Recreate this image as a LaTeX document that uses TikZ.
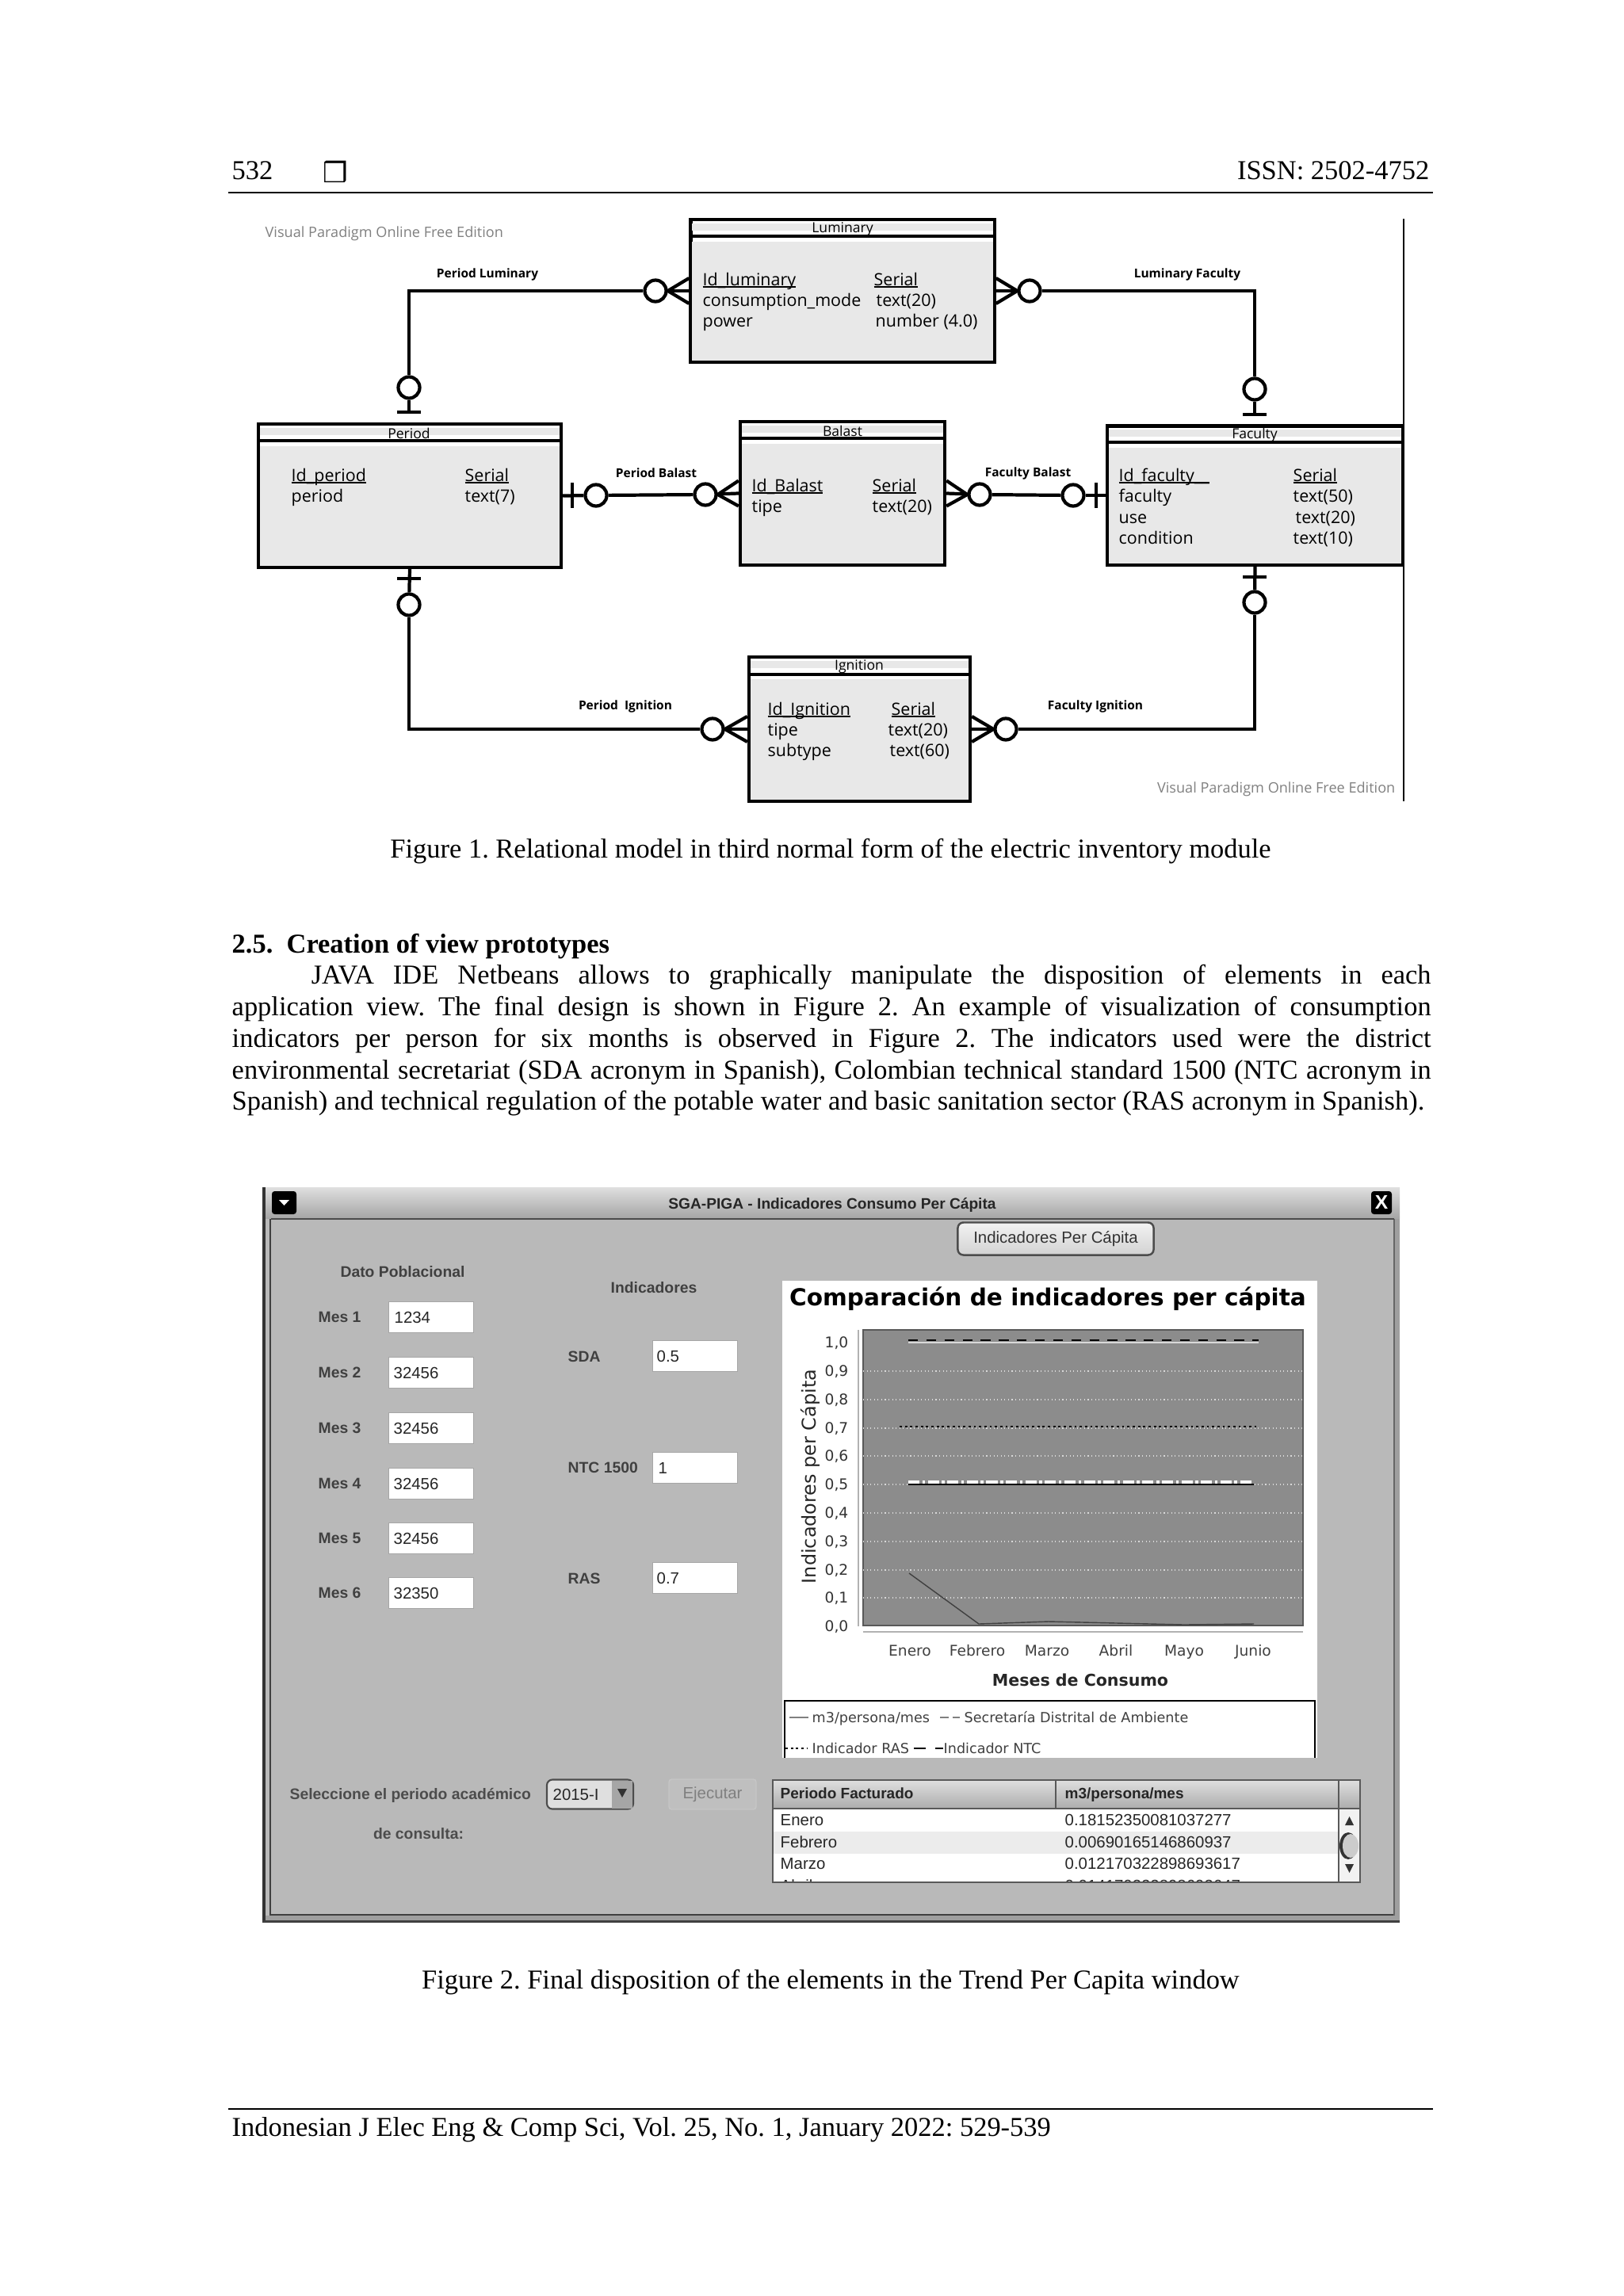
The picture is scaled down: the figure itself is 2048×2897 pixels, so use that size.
\documentclass[tikz,border=0pt]{standalone}
\usepackage{fontspec}
\setmainfont{Liberation Serif}
\setsansfont{Liberation Sans}
\newfontfamily\erfont{Open Sans}
\newfontfamily\symfont{DejaVu Sans}
\newcommand{\erkey}[1]{\setbox0\hbox{#1}\rlap{\rule[-0.8pt]{\wd0}{0.4pt}}\box0}
\tikzset{
  erbox/.style={draw,line width=1.2pt,fill=white,inner sep=0pt},
  erfill/.style={fill=gray!18},
  ertext/.style={anchor=base west,inner sep=0pt,font=\erfont\fontsize{6.1}{7}\selectfont},
  ertitle/.style={inner sep=0pt,font=\erfont\fontsize{5}{6}\selectfont},
  rellabel/.style={inner sep=0pt,font=\erfont\bfseries\fontsize{4.4}{5}\selectfont},
  rel/.style={line width=1.2pt},
  optional/.style={circle,draw,line width=1.2pt,fill=white,inner sep=0pt,minimum size=0.27cm},
  watermark/.style={anchor=west,inner sep=0pt,text=gray,font=\erfont\fontsize{5.15}{6}\selectfont},
  pagetext/.style={inner sep=0pt,font=\fontsize{9.8}{11.3}\selectfont\frenchspacing},
  winlabel/.style={anchor=base west,inner sep=0pt,text=black!75,font=\sffamily\bfseries\fontsize{5.5}{6}\selectfont},
  winfield/.style={draw=gray!70,line width=0.5pt,fill=white,inner sep=0pt,minimum width=1.07cm,minimum height=0.39cm},
  fieldtext/.style={anchor=base west,inner sep=0pt,text=black!85,font=\sffamily\fontsize{5.8}{6}\selectfont},
  ticklabel/.style={anchor=base east,inner sep=0pt,text=black!80,font=\symfont\fontsize{5.3}{6}\selectfont},
  catlabel/.style={anchor=base,inner sep=0pt,text=black!75,font=\symfont\fontsize{5.3}{6}\selectfont},
  legendtext/.style={anchor=base west,inner sep=0pt,text=black!75,font=\symfont\fontsize{5}{6}\selectfont},
  celltext/.style={anchor=base west,inner sep=0pt,text=black!85,font=\sffamily\fontsize{5.8}{6}\selectfont},
  gridline/.style={gray!30,line width=0.3pt,densely dotted},
}
\begin{document}
\begin{tikzpicture}[x=0.01cm,y=-0.01cm]
\useasboundingbox (0,0) rectangle (2048,2897);

% Page header
\node[pagetext,anchor=base west] (pageno) at (292,227) {532};
\node[pagetext,anchor=base] (pagebox) at (423,230) {\symfont\fontsize{10}{11}\selectfont ❒};
\node[pagetext,anchor=base east] (issn) at (1804,227) {ISSN: 2502-4752};
\coordinate (headl) at (288,243);
\coordinate (headr) at (1808,243);
\draw[line width=0.7pt] (headl) -- (headr);

% Figure 1 watermarks and right edge
\node[watermark] (markone) at (334,295) {Visual Paradigm Online Free Edition};
\node[watermark,anchor=east] (marktwo) at (1761,996) {Visual Paradigm Online Free Edition};
\coordinate (edgetop) at (1771,276);
\coordinate (edgebot) at (1771,1011);
\draw[line width=0.4pt] (edgetop) -- (edgebot);

% Luminary entity
\node[erbox,minimum width=3.83cm,minimum height=1.80cm] (luminary) at (1063,367) {};
\fill[erfill] ([shift={(4,30)}]luminary.north west) rectangle ([shift={(-4,-4)}]luminary.south east);
\fill[erfill] ([shift={(4,7)}]luminary.north west) rectangle ([shift={(-4,16)}]luminary.north east);
\draw[rel] ([yshift=-2.3mm]luminary.north west) -- ([yshift=-2.3mm]luminary.north east);
\node[ertitle] (luminarytitle) at (1063,289) {Luminary};
\node[ertext] (idluminary) at (886,360) {\erkey{Id\_luminary}};
\node[ertext] (consumption) at (886,386) {consumption\_mode};
\node[ertext] (power) at (886,412) {power};
\node[ertext] (luminarykey) at (1102,360) {\erkey{Serial}};
\node[ertext] (modetype) at (1105,386) {text(20)};
\node[ertext] (powertype) at (1104,412) {number (4.0)};

% Period entity
\node[erbox,minimum width=3.82cm,minimum height=1.81cm] (period) at (517,625.5) {};
\fill[erfill] ([shift={(4,30)}]period.north west) rectangle ([shift={(-4,-4)}]period.south east);
\fill[erfill] ([shift={(4,7)}]period.north west) rectangle ([shift={(-4,16)}]period.north east);
\draw[rel] ([yshift=-2.3mm]period.north west) -- ([yshift=-2.3mm]period.north east);
\node[ertitle] (periodtitle) at (516,547) {Period};
\node[ertext] (idperiod) at (367,607) {\erkey{Id\_period}};
\node[ertext] (periodname) at (367,633) {period};
\node[ertext] (periodkey) at (586,607) {\erkey{Serial}};
\node[ertext] (periodtype) at (586,633) {text(7)};

% Balast entity
\node[erbox,minimum width=2.58cm,minimum height=1.81cm] (balast) at (1063,622.5) {};
\fill[erfill] ([shift={(4,30)}]balast.north west) rectangle ([shift={(-4,-4)}]balast.south east);
\fill[erfill] ([shift={(4,7)}]balast.north west) rectangle ([shift={(-4,16)}]balast.north east);
\draw[rel] ([yshift=-2.3mm]balast.north west) -- ([yshift=-2.3mm]balast.north east);
\node[ertitle] (balasttitle) at (1063,544) {Balast};
\node[ertext] (idbalast) at (948,620) {\erkey{Id\_Balast}};
\node[ertext] (balasttipe) at (948,646) {tipe};
\node[ertext] (balastkey) at (1100,620) {\erkey{Serial}};
\node[ertext] (balasttype) at (1100,646) {text(20)};

% Faculty entity
\node[erbox,minimum width=3.73cm,minimum height=1.75cm] (faculty) at (1583.5,625) {};
\fill[erfill] ([shift={(4,30)}]faculty.north west) rectangle ([shift={(-4,-4)}]faculty.south east);
\fill[erfill] ([shift={(4,7)}]faculty.north west) rectangle ([shift={(-4,16)}]faculty.north east);
\draw[rel] ([yshift=-2.3mm]faculty.north west) -- ([yshift=-2.3mm]faculty.north east);
\node[ertitle] (facultytitle) at (1583,549) {Faculty};
\node[ertext] (idfaculty) at (1411,607) {\erkey{Id\_faculty\_\_}};
\node[ertext] (facultyname) at (1411,633) {faculty};
\node[ertext] (facultyuse) at (1411,660) {use};
\node[ertext] (facultycond) at (1411,686) {condition};
\node[ertext] (facultykey) at (1631,607) {\erkey{Serial}};
\node[ertext] (nametype) at (1631,633) {text(50)};
\node[ertext] (usetype) at (1634,660) {text(20)};
\node[ertext] (condtype) at (1631,686) {text(10)};

% Ignition entity
\node[erbox,minimum width=2.79cm,minimum height=1.82cm] (ignition) at (1084.5,920) {};
\fill[erfill] ([shift={(4,30)}]ignition.north west) rectangle ([shift={(-4,-4)}]ignition.south east);
\fill[erfill] ([shift={(4,7)}]ignition.north west) rectangle ([shift={(-4,16)}]ignition.north east);
\draw[rel] ([yshift=-2.4mm]ignition.north west) -- ([yshift=-2.4mm]ignition.north east);
\node[ertitle] (ignitiontitle) at (1084,841) {Ignition};
\node[ertext] (idignition) at (968,902) {\erkey{Id\_Ignition}};
\node[ertext] (ignitiontipe) at (968,928) {tipe};
\node[ertext] (subtype) at (968,954) {subtype};
\node[ertext] (ignitionkey) at (1124,902) {\erkey{Serial}};
\node[ertext] (tipetype) at (1120,928) {text(20)};
\node[ertext] (subtypetype) at (1122,954) {text(60)};

% Period Luminary
\node[optional] (plcircle) at (827,367) {};
\node[optional] (ploptional) at (516,489) {};
\coordinate (plbar) at (516,520);
\draw[rel] (ploptional) -- (516,367) -- (plcircle);
\draw[rel] (ploptional) -- (plbar);
\draw[rel] ([xshift=-1.5mm]plbar) -- ([xshift=1.5mm]plbar);
\draw[rel] ([yshift=1.6mm]luminary.west) -- (plcircle.east) -- ([yshift=-1.6mm]luminary.west);
\draw[rel] (plcircle) -- (luminary.west);
\node[rellabel] (pllabel) at (615,346) {Period Luminary};

% Luminary Faculty
\node[optional] (lfcircle) at (1299,367) {};
\node[optional] (lfoptional) at (1583,491) {};
\coordinate (lfbar) at (1583,523);
\draw[rel] (lfcircle) -- (1583,367) -- (lfoptional);
\draw[rel] (lfoptional) -- (lfbar);
\draw[rel] ([xshift=-1.5mm]lfbar) -- ([xshift=1.5mm]lfbar);
\draw[rel] ([yshift=1.6mm]luminary.east) -- (lfcircle.west) -- ([yshift=-1.6mm]luminary.east);
\draw[rel] (lfcircle) -- (luminary.east);
\node[rellabel] (lflabel) at (1498,346) {Luminary Faculty};

% Period Balast
\node[optional] (pbleft) at (752,625) {};
\node[optional] (pbright) at (890,624) {};
\coordinate (pbbar) at (722,625);
\draw[rel] (period.east) -- (pbleft);
\draw[rel] ([yshift=-1.6mm]pbbar) -- ([yshift=1.6mm]pbbar);
\draw[rel] (pbleft) -- (pbright);
\draw[rel] ([yshift=1.6mm]balast.west) -- (pbright.east) -- ([yshift=-1.6mm]balast.west);
\draw[rel] (pbright) -- (balast.west);
\node[rellabel] (pblabel) at (828,597) {Period Balast};

% Faculty Balast
\node[optional] (fbleft) at (1236,624) {};
\node[optional] (fbright) at (1354,625) {};
\coordinate (fbbar) at (1383,625);
\draw[rel] ([yshift=1.6mm]balast.east) -- (fbleft.west) -- ([yshift=-1.6mm]balast.east);
\draw[rel] (fbleft) -- (balast.east);
\draw[rel] (fbleft) -- (fbright);
\draw[rel] (fbright) -- (faculty.west);
\draw[rel] ([yshift=-1.6mm]fbbar) -- ([yshift=1.6mm]fbbar);
\node[rellabel] (fblabel) at (1297,597) {Faculty Balast};

% Period Ignition
\node[optional] (pioptional) at (516,763) {};
\node[optional] (picircle) at (899,920) {};
\coordinate (pibar) at (516,730);
\draw[rel] (period.south) -- (pioptional);
\draw[rel] ([xshift=-1.5mm]pibar) -- ([xshift=1.5mm]pibar);
\draw[rel] (pioptional) -- (516,920) -- (picircle);
\draw[rel] ([yshift=1.6mm]ignition.west) -- (picircle.east) -- ([yshift=-1.6mm]ignition.west);
\draw[rel] (picircle) -- (ignition.west);
\node[rellabel] (pilabel) at (789,891) {Period\ \ Ignition};

% Faculty Ignition
\node[optional] (fioptional) at (1583,760) {};
\node[optional] (ficircle) at (1269,920) {};
\coordinate (fibar) at (1583,728);
\draw[rel] (faculty.south) -- (fioptional);
\draw[rel] ([xshift=-1.5mm]fibar) -- ([xshift=1.5mm]fibar);
\draw[rel] (fioptional) -- (1583,920) -- (ficircle);
\draw[rel] ([yshift=1.6mm]ignition.east) -- (ficircle.west) -- ([yshift=-1.6mm]ignition.east);
\draw[rel] (ficircle) -- (ignition.east);
\node[rellabel] (filabel) at (1382,891) {Faculty Ignition};

% Captions and body text
\node[pagetext] (captionone) at (1048,1074) {Figure 1. Relational model in third normal form of the electric inventory module};
\node[pagetext,anchor=base west,font=\fontsize{9.8}{11}\selectfont\bfseries\frenchspacing] (section) at (292,1202) {2.5.\ \ Creation of view prototypes};
\node[pagetext,anchor=north west,text width=15.12cm,align=justify] (bodytext) at (292,1217) {\setlength{\parindent}{1cm}\indent JAVA IDE Netbeans allows to graphically manipulate the disposition of elements in each\linebreak application view. The final design is shown in Figure 2. An example of visualization of consumption\linebreak indicators per person for six months is observed in Figure 2. The indicators used were the district\linebreak environmental secretariat (SDA acronym in Spanish), Colombian technical standard 1500 (NTC acronym in\linebreak Spanish) and technical regulation of the potable water and basic sanitation sector (RAS acronym in Spanish).};
\node[pagetext] (captiontwo) at (1048,2501) {Figure 2. Final disposition of the elements in the Trend Per Capita window};

% Application window
\fill[gray!55] (331,1498) rectangle (1766,2426);
\shade[top color=gray!25,bottom color=gray!70] (331,1498) rectangle (1766,1537);
\fill[black!80] (331,1498) rectangle (335,2426);
\fill[black!75] (331,2423) rectangle (1766,2426);
\fill[black!75] (340,1538) rectangle (342,2417);
\fill[black!75] (340,2415) rectangle (1760,2417);
\fill[black!60] (1758,1538) rectangle (1760,2417);
\fill[gray!75] (1760,1538) rectangle (1766,2423);
\fill[gray!75] (335,2417) rectangle (1766,2423);
\draw[black!70,line width=0.6pt] (342,1538) -- (1759,1538);
\fill[black,rounded corners=1pt] (343,1503) rectangle (374,1532);
\fill[white] (352,1514) -- (365,1514) -- (358.5,1521) -- cycle;
\fill[black,rounded corners=1pt] (1730,1503) rectangle (1756,1532);
\node[inner sep=0pt,text=white,font=\sffamily\bfseries\fontsize{7}{8}\selectfont] (closebtn) at (1743,1517) {X};
\node[inner sep=0pt,text=black!85,font=\sffamily\bfseries\fontsize{5.45}{6}\selectfont] (wintitle) at (1050,1520) {SGA-PIGA - Indicadores Consumo Per Cápita};

% Indicator button
\node[draw=black!70,line width=0.7pt,rounded corners=2pt,top color=gray!10,bottom color=gray!35,minimum width=2.47cm,minimum height=0.41cm,inner sep=0pt,text=black!80,font=\sffamily\fontsize{5.8}{6}\selectfont] (indbutton) at (1332,1563) {Indicadores Per Cápita};

% Population data
\node[winlabel,anchor=base] (dato) at (508,1611) {Dato Poblacional};
\node[winlabel] (mes1) at (401,1668) {Mes 1};
\node[winlabel] (mes2) at (401,1738) {Mes 2};
\node[winlabel] (mes3) at (401,1808) {Mes 3};
\node[winlabel] (mes4) at (401,1878) {Mes 4};
\node[winlabel] (mes5) at (401,1947) {Mes 5};
\node[winlabel] (mes6) at (401,2016) {Mes 6};
\node[winfield] (field1) at (544,1662) {};
\node[winfield] (field2) at (544,1732) {};
\node[winfield] (field3) at (544,1802) {};
\node[winfield] (field4) at (544,1872) {};
\node[winfield] (field5) at (544,1941) {};
\node[winfield] (field6) at (544,2010) {};
\node[fieldtext] (val1) at (497,1669) {1234};
\node[fieldtext] (val2) at (496,1739) {32456};
\node[fieldtext] (val3) at (496,1809) {32456};
\node[fieldtext] (val4) at (496,1879) {32456};
\node[fieldtext] (val5) at (496,1948) {32456};
\node[fieldtext] (val6) at (496,2017) {32350};

% Indicators
\node[winlabel,anchor=base] (indic) at (825,1631) {Indicadores};
\node[winlabel] (sda) at (716,1718) {SDA};
\node[winlabel] (ntc) at (716,1858) {NTC 1500};
\node[winlabel] (ras) at (716,1998) {RAS};
\node[winfield] (sdafield) at (877,1711) {};
\node[winfield] (ntcfield) at (877,1852) {};
\node[winfield] (rasfield) at (877,1991) {};
\node[fieldtext] (sdaval) at (828,1718) {0.5};
\node[fieldtext] (ntcval) at (830,1859) {1};
\node[fieldtext] (rasval) at (828,1998) {0.7};

% Period selector
\node[winlabel,text=black!70] (select) at (365,2270) {Seleccione el periodo académico};
\node[winlabel,anchor=base,text=black!70] (consulta) at (528,2320) {de consulta:};
\node[draw=black!70,line width=0.6pt,rounded corners=2pt,fill=gray!25,minimum width=1.09cm,minimum height=0.37cm,inner sep=0pt] (combo) at (744.5,2264) {};
\fill[gray!70] (772,2247) rectangle (798,2282);
\fill[black!80] (779,2257) -- (791,2257) -- (785,2268) -- cycle;
\node[fieldtext] (comboval) at (697,2271) {2015-I};
\node[draw=gray!45,fill=gray!50,rounded corners=1pt,minimum width=1.10cm,minimum height=0.38cm,inner sep=0pt,text=gray,font=\sffamily\fontsize{5.8}{6}\selectfont] (ejecutar) at (899,2264) {Ejecutar};

% Chart panel
\fill[white] (987,1616) rectangle (1662,2218);
\node[inner sep=0pt,font=\symfont\bfseries\fontsize{8.4}{10}\selectfont] (charttitle) at (1322,1639) {Comparación de indicadores per cápita};
\fill[black!45] (1089,1678) rectangle (1644,2051);
\draw[black!65,line width=0.6pt] (1089,1678) rectangle (1644,2051);
\draw[gray!60,line width=0.4pt] (1083,1678) -- (1083,2052);
\draw[gray!60,line width=0.4pt] (1089,2059) -- (1644,2059);

% Horizontal grid
\draw[gridline] (1089,1730) -- (1644,1730);
\draw[gridline] (1089,1766) -- (1644,1766);
\draw[gridline] (1089,1802) -- (1644,1802);
\draw[gridline] (1089,1837) -- (1644,1837);
\draw[gridline] (1089,1873) -- (1644,1873);
\draw[gridline] (1089,1909) -- (1644,1909);
\draw[gridline] (1089,1945) -- (1644,1945);
\draw[gridline] (1089,1981) -- (1644,1981);
\draw[gridline] (1089,2016) -- (1644,2016);

% Indicator lines
\draw[white!85!black,line width=0.4pt] (1146,1694) -- (1588,1694);
\draw[black,line width=0.8pt,dash pattern=on 3.5pt off 3pt] (1146,1691) -- (1588,1691);
\draw[black,line width=0.8pt,dash pattern=on 0.8pt off 1.1pt] (1135,1800) -- (1587,1800);
\draw[black,line width=0.5pt] (1146,1873) -- (1582,1873);
\draw[white,line width=1pt,dash pattern=on 4pt off 1pt on 1pt off 1pt] (1146,1870) -- (1582,1870);
\draw[black!75,line width=0.4pt] (1147,1985) -- (1235,2049) -- (1323,2046) -- (1409,2048) -- (1494,2050) -- (1582,2049);

% Value axis labels
\node[ticklabel] (tick10) at (1071,1700) {1,0};
\node[ticklabel] (tick09) at (1071,1736) {0,9};
\node[ticklabel] (tick08) at (1071,1772) {0,8};
\node[ticklabel] (tick07) at (1071,1808) {0,7};
\node[ticklabel] (tick06) at (1071,1843) {0,6};
\node[ticklabel] (tick05) at (1071,1879) {0,5};
\node[ticklabel] (tick04) at (1071,1915) {0,4};
\node[ticklabel] (tick03) at (1071,1951) {0,3};
\node[ticklabel] (tick02) at (1071,1987) {0,2};
\node[ticklabel] (tick01) at (1071,2022) {0,1};
\node[ticklabel] (tick00) at (1071,2058) {0,0};
\node[inner sep=0pt,rotate=90,text=black!85,font=\symfont\fontsize{6.8}{7}\selectfont] (ytitle) at (1022,1863) {Indicadores per Cápita};

% Month labels
\node[catlabel] (enero) at (1148,2089) {Enero};
\node[catlabel] (febrero) at (1233,2089) {Febrero};
\node[catlabel] (marzo) at (1321,2089) {Marzo};
\node[catlabel] (abril) at (1408,2089) {Abril};
\node[catlabel] (mayo) at (1494,2089) {Mayo};
\node[catlabel] (junio) at (1581,2089) {Junio};
\node[inner sep=0pt,text=black!85,font=\symfont\bfseries\fontsize{5.85}{7}\selectfont] (xtitle) at (1363,2120) {Meses de Consumo};

% Legend
\coordinate (legsw) at (990,2218);
\coordinate (legse) at (1659,2218);
\draw[black,line width=0.5pt] (legsw) |- (1659,2146) -- (legse);
\draw[gray,line width=0.5pt] (996,2167) -- (1020,2167);
\node[legendtext] (legendone) at (1024,2173) {m3/persona/mes};
\draw[gray,line width=0.5pt,dash pattern=on 3pt off 1.5pt] (1186,2167) -- (1211,2167);
\node[legendtext] (legendtwo) at (1216,2173) {Secretaría Distrital de Ambiente};
\draw[black,line width=0.8pt,dash pattern=on 0.8pt off 1.1pt] (991,2206) -- (1018,2206);
\node[legendtext] (legendthree) at (1024,2212) {Indicador RAS};
\draw[black,line width=0.8pt] (1153,2206) -- (1168,2206);
\draw[black,line width=0.8pt] (1180,2206) -- (1190,2206);
\node[legendtext] (legendfour) at (1190,2212) {Indicador NTC};

% Data table
\fill[white] (975,2246) rectangle (1716,2375);
\shade[top color=gray!25,bottom color=gray!65] (975,2246) rectangle (1716,2282);
\fill[gray!15] (975,2311) rectangle (1689,2339);
\begin{scope}
\clip (975,2282) rectangle (1689,2375);
\node[celltext] (row1a) at (984,2303) {Enero};
\node[celltext] (row1b) at (1343,2303) {0.18152350081037277};
\node[celltext] (row2a) at (984,2331) {Febrero};
\node[celltext] (row2b) at (1343,2331) {0.00690165146860937};
\node[celltext] (row3a) at (984,2358) {Marzo};
\node[celltext] (row3b) at (1343,2358) {0.012170322898693617};
\node[celltext] (row4a) at (984,2386) {Abril};
\node[celltext] (row4b) at (1343,2386) {0.014170322898693647};
\end{scope}

% Scroll bar
\fill[gray!10] (1690,2283) rectangle (1715,2374);
\fill[black!80] (1697,2303) -- (1708,2303) -- (1702.5,2292) -- cycle;
\fill[black!80] (1697,2352) -- (1708,2352) -- (1702.5,2363) -- cycle;
\fill[black!80] (1701,2329) ellipse (11 and 17);
\fill[gray!40] (1704,2329) ellipse (10 and 15);
\draw[black!65,line width=0.6pt] (975,2246) rectangle (1716,2375);
\draw[black!65,line width=0.5pt] (975,2282) -- (1716,2282);
\draw[black!65,line width=0.6pt] (1332,2246) -- (1332,2282);
\draw[black!65,line width=0.6pt] (1689,2246) -- (1689,2375);
\node[celltext,font=\sffamily\bfseries\fontsize{5.4}{6}\selectfont] (colone) at (984,2269) {Periodo Facturado};
\node[celltext,font=\sffamily\bfseries\fontsize{5.4}{6}\selectfont] (coltwo) at (1343,2269) {m3/persona/mes};

% Page footer
\coordinate (footl) at (288,2661);
\coordinate (footr) at (1808,2661);
\draw[line width=0.7pt] (footl) -- (footr);
\node[pagetext,anchor=base west] (footer) at (292,2695) {Indonesian J Elec Eng \& Comp Sci, Vol. 25, No. 1, January 2022: 529-539};
\end{tikzpicture}
\end{document}
